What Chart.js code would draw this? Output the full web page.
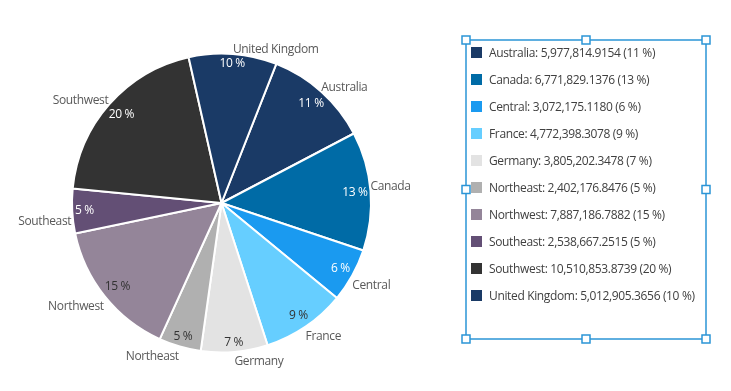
<!DOCTYPE html>
<html>
<head>
<meta charset="utf-8">
<script src="https://cdn.jsdelivr.net/npm/chart.js@4"></script>
<style>
  html, body { margin: 0; padding: 0; background: #fff; }
  #wrap { width: 731px; height: 391px; }
</style>
</head>
<body>
<div id="wrap"><canvas id="chart" width="731" height="391"></canvas></div>
<script>
const categories = ['Australia', 'Canada', 'Central', 'France', 'Germany', 'Northeast', 'Northwest', 'Southeast', 'Southwest', 'United Kingdom'];
const sales = [5977814.9154, 6771829.1376, 3072175.1180, 4772398.3078, 3805202.3478, 2402176.8476, 7887186.7882, 2538667.2515, 10510853.8739, 5012905.3656];
const colors = ['#1a3a66', '#006ba6', '#1a9af0', '#66ceff', '#e3e3e3', '#b0b0b0', '#948599', '#634f75', '#333333', '#1a3a66'];
const darkText = [false, false, false, true, true, true, true, false, false, false];

const FONT = '12px "Segoe UI", "Open Sans", sans-serif';
const SPACING = '-0.35px';
const total = sales.reduce((a, b) => a + b, 0);
const pct = v => Math.round(v / total * 100) + ' %';
const fmt = v => v.toLocaleString('en-US', { minimumFractionDigits: 4, maximumFractionDigits: 4 });

// labels in and around the slices
const sliceLabels = {
  id: 'sliceLabels',
  afterDatasetsDraw(chart) {
    const ctx = chart.ctx;
    const arcs = chart.getDatasetMeta(0).data;
    ctx.save();
    ctx.font = FONT;
    ctx.letterSpacing = SPACING;
    arcs.forEach((arc, i) => {
      const mid = (arc.startAngle + arc.endAngle) / 2;
      const r = arc.outerRadius;
      const cos = Math.cos(mid), sin = Math.sin(mid);

      // percent: pushed in just far enough for its box to stay inside the pie
      const txt = pct(sales[i]);
      const hw = ctx.measureText(txt).width / 2, hh = 6;
      const pr = r - 2.5 - (hw * Math.abs(cos) + hh * Math.abs(sin));
      ctx.textAlign = 'center';
      ctx.textBaseline = 'middle';
      ctx.fillStyle = darkText[i] ? '#333333' : '#ffffff';
      ctx.fillText(txt, arc.x + cos * pr, arc.y + sin * pr);

      const ax = arc.x + cos * r;
      const ay = arc.y + sin * r;
      ctx.fillStyle = '#595959';
      ctx.textAlign = cos >= 0 ? 'left' : 'right';
      ctx.textBaseline = sin < 0 ? 'bottom' : 'top';
      ctx.fillText(categories[i], ax + (cos >= 0 ? 0 : -1), ay + (sin < 0 ? 2 : 4));
    });
    ctx.restore();
  }
};

// legend box with selection handles
const boxLegend = {
  id: 'boxLegend',
  afterDraw(chart) {
    const ctx = chart.ctx;
    const L = 466, T = 40, R = 706, B = 339;
    ctx.save();
    ctx.strokeStyle = '#2b95d6';
    ctx.lineWidth = 1.5;
    ctx.strokeRect(L, T, R - L, B - T);
    const mx = (L + R) / 2, my = (T + B) / 2;
    [[L, T], [mx, T], [R, T], [L, my], [R, my], [L, B], [mx, B], [R, B]].forEach(([x, y]) => {
      ctx.fillStyle = '#ffffff';
      ctx.fillRect(x - 4, y - 4, 8, 8);
      ctx.strokeRect(x - 4, y - 4, 8, 8);
    });

    ctx.font = FONT;
    ctx.letterSpacing = SPACING;
    ctx.textAlign = 'left';
    ctx.textBaseline = 'middle';
    categories.forEach((c, i) => {
      const y = 52.5 + i * 27;
      ctx.fillStyle = colors[i];
      ctx.fillRect(471, y - 5.5, 11, 11);
      ctx.fillStyle = '#404040';
      ctx.fillText(c + ': ' + fmt(sales[i]) + ' (' + pct(sales[i]) + ')', 489, y + 1);
    });
    ctx.restore();
  }
};

new Chart(document.getElementById('chart').getContext('2d'), {
  type: 'pie',
  data: {
    labels: categories,
    datasets: [{
      data: sales,
      backgroundColor: colors,
      borderColor: '#ffffff',
      borderWidth: 2
    }]
  },
  options: {
    responsive: false,
    animation: false,
    rotation: 21.5,
    layout: { padding: { left: 71, top: 52, right: 359, bottom: 37 } },
    plugins: {
      legend: { display: false },
      tooltip: { enabled: false }
    }
  },
  plugins: [sliceLabels, boxLegend]
});
</script>
</body>
</html>
